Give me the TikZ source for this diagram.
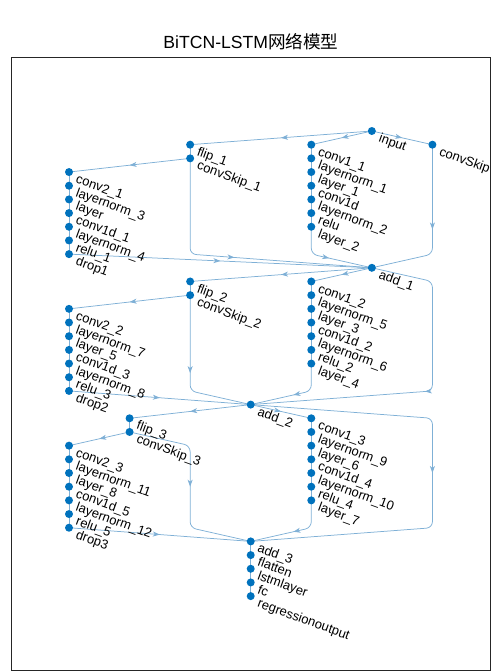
\documentclass[tikz,border=0pt]{standalone}
\usepackage{fontspec}
\setmainfont{Liberation Sans}
\newfontfamily\cjkfont{Noto Sans CJK SC}
\usetikzlibrary{arrows.meta,decorations.markings,calc}
\definecolor{nodeblue}{RGB}{0,114,189}
\definecolor{edgeblue}{RGB}{127,176,214}
\definecolor{axisgray}{RGB}{38,38,38}
\pgfdeclarelayer{bg}
\pgfsetlayers{bg,main}
\newcommand\addlay[4]{%
  \node[dotnode] (#1) at ({69+60.57*#2},{131+13.68*#3}) {};
  \node[lbl] (#1-t) at ($(#1.center)+(6,10.5)$) {#4};
}
\begin{document}
\begin{tikzpicture}[x=1pt,y=-1pt,
  dotnode/.style={circle,fill=nodeblue,inner sep=0pt,minimum size=8pt},
  lbl/.style={anchor=base west,rotate=-20,inner sep=0pt,font=\fontsize{13}{14}\selectfont},
  edge/.style={draw=edgeblue,line width=0.75pt,rounded corners=6pt},
  midarrow/.style={postaction={decorate},decoration={markings,mark=at position #1 with {\arrow{Stealth[length=7pt,width=5pt,inset=2pt]}}}},
  midarrow/.default=0.5,
]
\useasboundingbox (0,0) rectangle (500,672);
\draw[axisgray,line width=0.6pt] (11.5,57.5) rectangle (490.5,670.3);
\node[anchor=base,font=\fontsize{17.6}{20}\selectfont,inner sep=0pt] (title) at (251,48) {BiTCN-LSTM{\cjkfont 网络模型}};

% block 1
\addlay{input}{5}{0}{input}
\addlay{flip_1}{2}{1}{flip\_1}
\addlay{conv1_1}{4}{1}{conv1\_1}
\addlay{convSkip}{6}{1}{convSkip}
\addlay{convSkip_1}{2}{2}{convSkip\_1}
\addlay{layernorm_1}{4}{2}{layernorm\_1}
\addlay{conv2_1}{0}{3}{conv2\_1}
\addlay{layer_1}{4}{3}{layer\_1}
\addlay{layernorm_3}{0}{4}{layernorm\_3}
\addlay{conv1d}{4}{4}{conv1d}
\addlay{layer}{0}{5}{layer}
\addlay{layernorm_2}{4}{5}{layernorm\_2}
\addlay{conv1d_1}{0}{6}{conv1d\_1}
\addlay{relu}{4}{6}{relu}
\addlay{layernorm_4}{0}{7}{layernorm\_4}
\addlay{layer_2}{4}{7}{layer\_2}
\addlay{relu_1}{0}{8}{relu\_1}
\addlay{drop1}{0}{9}{drop1}
\addlay{add_1}{5}{10}{add\_1}
% block 2
\addlay{flip_2}{2}{11}{flip\_2}
\addlay{conv1_2}{4}{11}{conv1\_2}
\addlay{convSkip_2}{2}{12}{convSkip\_2}
\addlay{layernorm_5}{4}{12}{layernorm\_5}
\addlay{conv2_2}{0}{13}{conv2\_2}
\addlay{layer_3}{4}{13}{layer\_3}
\addlay{layernorm_7}{0}{14}{layernorm\_7}
\addlay{conv1d_2}{4}{14}{conv1d\_2}
\addlay{layer_5}{0}{15}{layer\_5}
\addlay{layernorm_6}{4}{15}{layernorm\_6}
\addlay{conv1d_3}{0}{16}{conv1d\_3}
\addlay{relu_2}{4}{16}{relu\_2}
\addlay{layernorm_8}{0}{17}{layernorm\_8}
\addlay{layer_4}{4}{17}{layer\_4}
\addlay{relu_3}{0}{18}{relu\_3}
\addlay{drop2}{0}{19}{drop2}
\addlay{add_2}{3}{20}{add\_2}
% block 3
\addlay{flip_3}{1}{21}{flip\_3}
\addlay{conv1_3}{4}{21}{conv1\_3}
\addlay{convSkip_3}{1}{22}{convSkip\_3}
\addlay{layernorm_9}{4}{22}{layernorm\_9}
\addlay{conv2_3}{0}{23}{conv2\_3}
\addlay{layer_6}{4}{23}{layer\_6}
\addlay{layernorm_11}{0}{24}{layernorm\_11}
\addlay{conv1d_4}{4}{24}{conv1d\_4}
\addlay{layer_8}{0}{25}{layer\_8}
\addlay{layernorm_10}{4}{25}{layernorm\_10}
\addlay{conv1d_5}{0}{26}{conv1d\_5}
\addlay{relu_4}{4}{26}{relu\_4}
\addlay{layernorm_12}{0}{27}{layernorm\_12}
\addlay{layer_7}{4}{27}{layer\_7}
\addlay{relu_5}{0}{28}{relu\_5}
\addlay{drop3}{0}{29}{drop3}
\addlay{add_3}{3}{30}{add\_3}
\addlay{flatten}{3}{31}{flatten}
\addlay{lstmlayer}{3}{32}{lstmlayer}
\addlay{fc}{3}{33}{fc}
\addlay{regressionoutput}{3}{34}{regressionoutput}

\begin{pgfonlayer}{bg}
% chains
\foreach \a/\b in {conv1_1/layernorm_1,layernorm_1/layer_1,layer_1/conv1d,conv1d/layernorm_2,layernorm_2/relu,relu/layer_2,
  conv2_1/layernorm_3,layernorm_3/layer,layer/conv1d_1,conv1d_1/layernorm_4,layernorm_4/relu_1,relu_1/drop1,
  flip_1/convSkip_1,flip_2/convSkip_2,flip_3/convSkip_3,
  conv1_2/layernorm_5,layernorm_5/layer_3,layer_3/conv1d_2,conv1d_2/layernorm_6,layernorm_6/relu_2,relu_2/layer_4,
  conv2_2/layernorm_7,layernorm_7/layer_5,layer_5/conv1d_3,conv1d_3/layernorm_8,layernorm_8/relu_3,relu_3/drop2,
  conv1_3/layernorm_9,layernorm_9/layer_6,layer_6/conv1d_4,conv1d_4/layernorm_10,layernorm_10/relu_4,relu_4/layer_7,
  conv2_3/layernorm_11,layernorm_11/layer_8,layer_8/conv1d_5,conv1d_5/layernorm_12,layernorm_12/relu_5,relu_5/drop3,
  add_3/flatten,flatten/lstmlayer,lstmlayer/fc,fc/regressionoutput}
  \draw[edge] (\a.center) -- (\b.center);
% block 1
\draw[edge,midarrow] (input.center) -- (flip_1.center);
\draw[edge,midarrow] (input.center) -- (conv1_1.center);
\draw[edge,midarrow] (input.center) -- (convSkip.center);
\draw[edge,midarrow] (convSkip_1.center) -- (conv2_1.center);
\draw[edge,midarrow] (convSkip.center) -- (convSkip.center |- drop1.center) -- (add_1.center);
\draw[edge,midarrow] (layer_2.center) -- (layer_2.center |- drop1.center) -- (add_1.center);
\draw[edge,midarrow] (convSkip_1.center) -- (convSkip_1.center |- drop1.center) -- (add_1.center);
\draw[edge,midarrow] (drop1.center) -- (add_1.center);
% block 2
\draw[edge,midarrow] (add_1.center) -- (flip_2.center);
\draw[edge,midarrow] (add_1.center) -- (conv1_2.center);
\draw[edge,midarrow] (add_1.center) -- (convSkip.center |- flip_2.center) -- (convSkip.center |- drop2.center) -- (add_2.center);
\draw[edge,midarrow] (convSkip_2.center) -- (conv2_2.center);
\draw[edge,midarrow] (convSkip_2.center) -- (convSkip_2.center |- drop2.center) -- (add_2.center);
\draw[edge,midarrow] (layer_4.center) -- (layer_4.center |- drop2.center) -- (add_2.center);
\draw[edge,midarrow] (drop2.center) -- (add_2.center);
% block 3
\draw[edge,midarrow] (add_2.center) -- (flip_3.center);
\draw[edge,midarrow] (add_2.center) -- (conv1_3.center);
\draw[edge,midarrow] (add_2.center) -- (convSkip.center |- flip_3.center) -- (convSkip.center |- drop3.center) -- (add_3.center);
\draw[edge,midarrow] (convSkip_3.center) -- (conv2_3.center);
\draw[edge,midarrow] (convSkip_3.center) -- (convSkip_2.center |- conv2_3.center) -- (convSkip_2.center |- drop3.center) -- (add_3.center);
\draw[edge,midarrow] (layer_7.center) -- (layer_7.center |- drop3.center) -- (add_3.center);
\draw[edge,midarrow] (drop3.center) -- (add_3.center);
\end{pgfonlayer}
\end{tikzpicture}
\end{document}
